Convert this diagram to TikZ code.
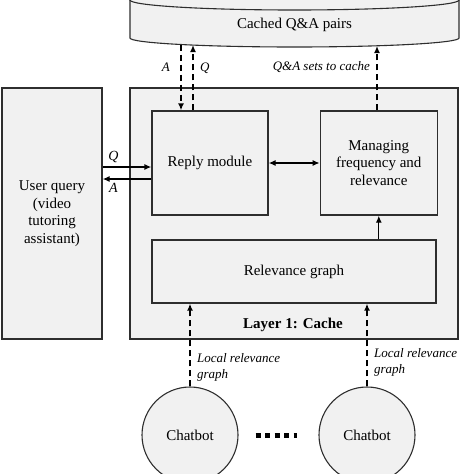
\documentclass[tikz,border=0pt]{standalone}
\usepackage{fontspec}
\setmainfont{Liberation Serif}
\usetikzlibrary{arrows.meta,calc,positioning}
\definecolor{boxgray}{gray}{0.945}
\definecolor{linegray}{gray}{0.18}
\tikzset{
  layerbox/.style={draw=linegray, fill=boxgray, line width=1.3pt, minimum width=328pt, minimum height=251pt},
  modbox/.style={draw=linegray, fill=boxgray, line width=1.3pt, align=center, font=\fontsize{15}{17.5}\selectfont},
  userbox/.style={modbox, minimum width=100pt, minimum height=251pt},
  botcircle/.style={draw=linegray, fill=boxgray, circle, line width=1.1pt, minimum size=96pt, inner sep=0pt, font=\fontsize{15}{17.5}\selectfont},
  storebody/.style={draw=linegray, fill=boxgray, line width=1.1pt},
  arrow/.style={-{Latex[length=7pt,width=6pt]}, line width=1.3pt},
  twoway/.style={{Latex[length=7pt,width=6pt]}-{Latex[length=7pt,width=6pt]}, line width=1.3pt},
  dasharrow/.style={-{Latex[length=7pt,width=6pt]}, line width=1.6pt, dash pattern=on 6pt off 4pt},
  edgelabel/.style={font=\fontsize{13}{16}\selectfont\itshape, align=left},
  dotrow/.style={line width=5pt, dash pattern=on 5pt off 4.5pt}
}
\begin{document}
\begin{tikzpicture}[x=1pt, y=-1pt, font=\fontsize{15}{17.5}\selectfont]
  \useasboundingbox (0,0) rectangle (474,474);
  \clip (0,0) rectangle (474,474);

  \draw[storebody] (130,-30) -- (130,38) arc[start angle=180, end angle=0, x radius=164.5, y radius=9] -- (459,-30) -- cycle;
  \draw[storebody] (294.5,0) ellipse[x radius=164.5, y radius=10];
  \node (store) at (294.5,25) {Cached Q\&A pairs};
  \coordinate (storeA) at (181,44.5);
  \coordinate (storeQ) at (193,45);
  \coordinate (storeS) at (377,46);

  \node[layerbox] (cache) at (294,213.5) {};
  \node[userbox] (user) at (52,213.5) {User query\\(video\\tutoring\\assistant)};
  \node[modbox, minimum width=116pt, minimum height=104pt] (reply) at (210,163) {Reply module};
  \node[modbox, minimum width=117pt, minimum height=104pt, right=51pt of reply] (manage) {Managing\\frequency and\\relevance};
  \node[modbox, minimum width=284pt, minimum height=63pt] (relgraph) at (294,271.5) {Relevance graph};
  \node[font=\fontsize{15}{17.5}\selectfont\bfseries] (layerlbl) at (293,325) {Layer 1: Cache};

  \node[botcircle] (bot1) at (190,435) {Chatbot};
  \node[botcircle] (bot2) at (367,435) {Chatbot};
  \draw[dotrow] ([xshift=17pt]bot1.east) -- ([xshift=-21pt]bot2.west);

  \coordinate (qin) at ($(reply.west)+(0,4)$);
  \coordinate (aout) at ($(reply.west)+(0,16)$);
  \draw[arrow] (user.east |- qin) -- (qin) node[pos=0.22, above, edgelabel, font=\fontsize{14}{16}\selectfont\itshape] {Q};
  \draw[arrow] (aout) -- (user.east |- aout) node[pos=0.78, below, edgelabel, font=\fontsize{14}{16}\selectfont\itshape] {A};
  \draw[twoway] (reply.east) -- (reply.east -| manage.west);
  \draw[arrow] (relgraph.north -| manage.south) -- (manage.south);

  \draw[dasharrow] (storeA) -- (reply.north -| storeA) node[pos=0.35, left=7pt, edgelabel] {A};
  \draw[dasharrow] (reply.north -| storeQ) -- (storeQ) node[pos=0.65, right=3pt, edgelabel] {Q};
  \draw[dasharrow] (manage.north -| storeS) -- (storeS) node[pos=0.67, left=3pt, edgelabel] {Q\&A sets to cache};
  \foreach \b/\p in {bot1/0.23,bot2/0.29}
    \draw[dasharrow] (\b.north) -- (\b.north |- relgraph.south) node[pos=\p, right=3pt, edgelabel] {Local relevance\\graph};
\end{tikzpicture}
\end{document}
